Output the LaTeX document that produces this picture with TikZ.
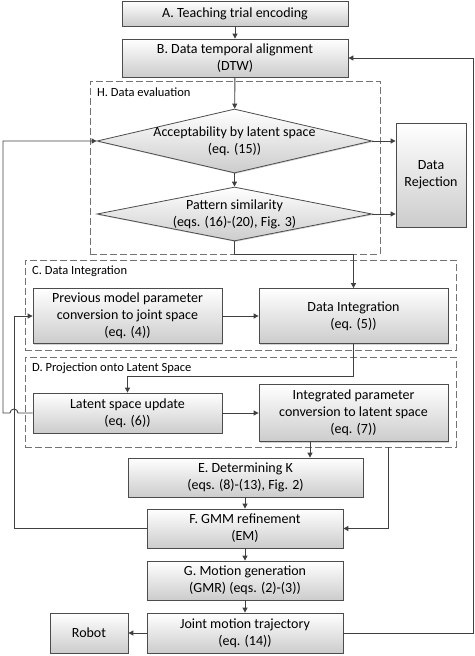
\documentclass[tikz,border=0pt]{standalone}
\usepackage{fontspec}
\setmainfont{Carlito}
\usetikzlibrary{shapes.geometric,shadows,arrows.meta}
\begin{document}
\begin{tikzpicture}[x=1pt,y=-1pt,
  line/.style={draw=black!75, line width=0.9pt},
  box/.style={draw=black!70, line width=0.8pt, top color=white, bottom color=black!20,
    drop shadow={shadow xshift=1pt,shadow yshift=-1pt,opacity=0.35},
    align=center, inner sep=0pt, font=\fontsize{14}{17}\selectfont},
  decision/.style={box, diamond, inner sep=-3pt},
  group/.style={draw=black!55, dash pattern=on 7pt off 3pt, line width=0.9pt, inner sep=0pt},
  grouplabel/.style={anchor=north west, inner sep=0pt, font=\fontsize{12.5}{15}\selectfont},
  >={Triangle[length=5pt,width=5pt]}]
\useasboundingbox (0,0) rectangle (474,656);
% groups
\node[group, minimum width=290pt, minimum height=173pt] (Hg) at (235,167.5) {};
\node[group, minimum width=431pt, minimum height=90pt] (Cg) at (240.5,305) {};
\node[group, minimum width=431pt, minimum height=90pt] (Dg) at (240.5,402) {};
\node[grouplabel] (Hl) at (97,88) {H. Data evaluation};
\node[grouplabel] (Cl) at (32,266) {C. Data Integration};
\node[grouplabel] (Dl) at (32,363) {D. Projection onto Latent Space};
% boxes
\node[box, minimum width=226pt, minimum height=25pt] (A) at (235,13.5) {A. Teaching trial encoding};
\node[box, minimum width=226pt, minimum height=38pt] (B) at (235,58) {B. Data temporal alignment\\(DTW)};
\node[decision, aspect=4.3, minimum width=275pt, minimum height=64pt] (D1) at (234.5,141) {Acceptability by latent space\\(eq. (15))};
\node[decision, aspect=5.1, minimum width=275pt, minimum height=54pt] (D2) at (234.5,214) {Pattern similarity\\(eqs. (16)-(20), Fig. 3)};
\node[box, minimum width=70pt, minimum height=104pt] (Rej) at (431,175) {Data\\Rejection};
\node[box, minimum width=189pt, minimum height=55pt] (P) at (127.5,316) {Previous model parameter\\conversion to joint space\\(eq. (4))};
\node[box, minimum width=189pt, minimum height=55pt] (I) at (353.5,316) {Data Integration\\(eq. (5))};
\node[box, minimum width=189pt, minimum height=40pt] (L) at (127.5,413) {Latent space update\\(eq. (6))};
\node[box, minimum width=189pt, minimum height=57pt] (IP) at (353.5,413) {Integrated parameter\\conversion to latent space\\(eq. (7))};
\node[box, minimum width=235pt, minimum height=39pt] (E) at (245.5,477.5) {E. Determining K\\(eqs. (8)-(13), Fig. 2)};
\node[box, minimum width=196pt, minimum height=39pt] (F) at (245,528.5) {F. GMM refinement\\(EM)};
\node[box, minimum width=196pt, minimum height=39pt] (G) at (245,580.5) {G. Motion generation\\(GMR) (eqs. (2)-(3))};
\node[box, minimum width=196pt, minimum height=40pt] (J) at (245,633) {Joint motion trajectory\\(eq. (14))};
\node[box, minimum width=78pt, minimum height=40pt] (R) at (89,633) {Robot};
% connectors
\draw[line,->] (A) -- (B);
\draw[line,->] (B) -- (D1);
\draw[line,->] (D1) -- (D2);
\draw[line,->] (D1.east) -- (D1.east -| Rej.west);
\draw[line,->] (D2.east) -- (D2.east -| Rej.west);
\draw[line,->] (D2.south) -- (D2.south |- 0,254) -| (I.north);
\draw[line,->] (P) -- (I);
\draw[line,->] (I.south) -- (I.south |- 0,376) -| (L.north);
\draw[line,->] (L) -- (L.east -| IP.west);
\draw[line,->] (IP.south -| 310,0) -- (E.north -| 310,0);
\draw[line,->] (E.south -| F.north) -- (F.north);
\draw[line,->] (F) -- (G);
\draw[line,->] (G) -- (J);
\draw[line,->] (J) -- (R);
\draw[line,->] (J.east) -- ++(130,0) |- (B.east);
\draw[line,->] (Dg.south -| 388,0) |- (F.east);
\draw[line,->] (F.west) -- (14,528.5) |- (P.west);
\draw[line,->] (L.west) -- (18,413) arc (0:-180:4) -- (3,413) |- (D1.west);
\end{tikzpicture}
\end{document}
